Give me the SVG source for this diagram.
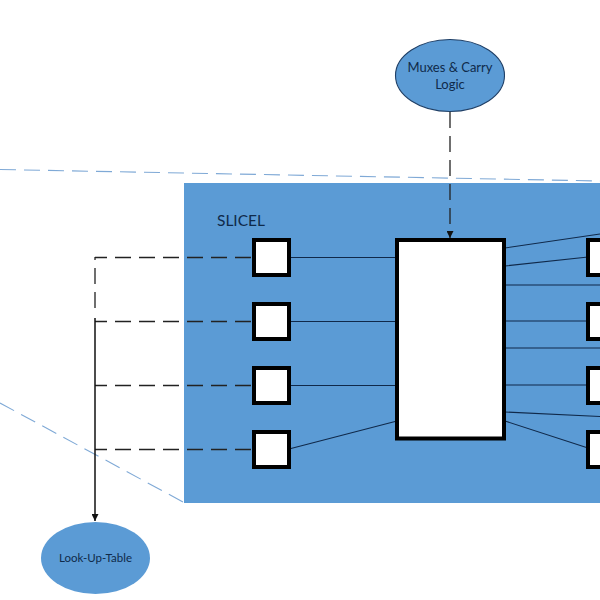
<svg xmlns="http://www.w3.org/2000/svg" width="600" height="600" viewBox="0 0 600 600">
<style>
.t{font-family:"Lato","Liberation Sans",sans-serif;font-size:13px;fill:#0f2a4a;text-anchor:middle}
.box{fill:#fff;stroke:#000;stroke-width:4}
.thin{fill:none;stroke:#10294a;stroke-width:1.1}
.dash{fill:none;stroke:#222;stroke-width:1.3;stroke-dasharray:16 8}
.guide{fill:none;stroke:#7fa9d6;stroke-width:1.1;stroke-dasharray:16 8}
</style>
<defs>
<marker id="arrow" markerUnits="userSpaceOnUse" markerWidth="8" markerHeight="7" refX="7" refY="3.5" orient="auto"><path d="M0 0L7 3.5L0 7Z" fill="#111"/></marker>
</defs>
<rect width="600" height="600" fill="#fff"/>
<g id="slice-bg"><rect x="184" y="183" width="416" height="320" fill="#5b9bd5"/></g>
<g id="connectors">
<path class="guide" d="M0 169.500L600 181"/>
<path class="guide" d="M0 403L183 502"/>
<path class="thin" d="M289 257.500H397M289 321.500H397M289 385.500H397M289 449L397 421"/>
<path class="thin" d="M505 248L600 234M505 266L588 257M505 285H600M505 321H588M505 348H600M505 385H588M505 412L600 416.500M505 421L588 448"/>
<path class="dash" style="stroke-dashoffset:4" d="M95 257.500H253M95 321.500H253M95 385.500H253M95 449.500H253"/>
<path class="dash" style="stroke-dashoffset:13" d="M95 257V312"/>
<path d="M95 318V521" fill="none" stroke="#111" stroke-width="1.500" marker-end="url(#arrow)"/>
<path class="dash" d="M450 112V238" marker-end="url(#arrow)"/>
</g>
<g id="muxes"><ellipse cx="450" cy="75.500" rx="54.500" ry="36" fill="#5b9bd5" stroke="#1f3f66" stroke-width="1.100"/><text class="t" x="450" y="72">Muxes &amp; Carry</text><text class="t" x="450" y="88.500">Logic</text></g>
<g id="lut"><ellipse cx="95.500" cy="558" rx="54.500" ry="36" fill="#5b9bd5"/><text class="t" style="font-size:11.500px" x="95.500" y="561.500">Look-Up-Table</text></g>
<g id="label"><text x="241" y="226" font-family="Lato,'Liberation Sans',sans-serif" font-size="15.500" fill="#0f2a4a" text-anchor="middle">SLICEL</text></g>
<g id="in1"><rect class="box" x="254" y="240" width="35" height="35"/></g>
<g id="in2"><rect class="box" x="254" y="304" width="35" height="35"/></g>
<g id="in3"><rect class="box" x="254" y="368" width="35" height="35"/></g>
<g id="in4"><rect class="box" x="254" y="432" width="35" height="35"/></g>
<g id="logic"><rect class="box" x="397" y="240" width="107" height="198.500"/></g>
<g id="out1"><rect class="box" x="588" y="240" width="35" height="35"/></g>
<g id="out2"><rect class="box" x="588" y="304" width="35" height="35"/></g>
<g id="out3"><rect class="box" x="588" y="368" width="35" height="35"/></g>
<g id="out4"><rect class="box" x="588" y="432" width="35" height="35"/></g>
</svg>
